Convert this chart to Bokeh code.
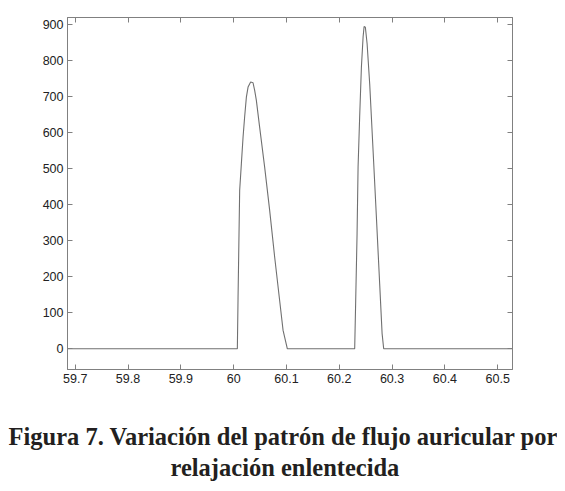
from bokeh.embed import file_html
from bokeh.models import FixedTicker, LinearAxis, PrintfTickFormatter, Range1d, Title
from bokeh.plotting import figure
from bokeh.resources import INLINE

# time (s) and atrial flow
time = [59.68, 60.007, 60.0083, 60.0114, 60.0146, 60.0178, 60.0208, 60.0241,
        60.0273, 60.0322, 60.0367, 60.0398, 60.0430, 60.0492, 60.0587, 60.0682,
        60.0777, 60.0871, 60.0936, 60.1017, 60.2292, 60.2311, 60.2337, 60.2356,
        60.2386, 60.2419, 60.2451, 60.2470, 60.2494, 60.2527, 60.2576, 60.2640,
        60.2703, 60.2765, 60.2811, 60.2841, 60.53]
flow = [0, 0, 139, 439, 513, 587, 643, 698,
        726, 740, 738, 717, 689, 615, 504, 384,
        254, 134, 51, 0, 0, 134, 319, 504,
        643, 781, 865, 894, 892, 846, 735, 550,
        365, 180, 42, 0, 0]

x_ticks = [59.7, 59.8, 59.9, 60.0, 60.1, 60.2, 60.3, 60.4, 60.5]
y_ticks = [0, 100, 200, 300, 400, 500, 600, 700, 800, 900]

caption = ["Figura 7. Variación del patrón de flujo auricular por",
           "relajación enlentecida"]

frame_col = "#808080"
label_font = "Liberation Sans"

p = figure(width=557, height=487, output_backend="svg", toolbar_location=None,
           x_range=Range1d(59.6854, 60.528), y_range=Range1d(-57.5, 919),
           min_border_left=67, min_border_right=45, min_border_top=17,
           min_border_bottom=118, x_axis_location=None, y_axis_location=None)
p.grid.visible = False
p.outline_line_color = frame_col

p.line(time, flow, line_color="#707070", line_width=1.1)


def make_axis(ticks, show_labels):
    ax = LinearAxis(ticker=FixedTicker(ticks=ticks),
                    formatter=PrintfTickFormatter(format="%g"))
    ax.axis_line_color = frame_col
    ax.major_tick_line_color = frame_col
    ax.major_tick_in = 5
    ax.major_tick_out = 0
    ax.minor_tick_line_color = None
    ax.major_label_standoff = 4
    ax.major_label_text_font = label_font
    ax.major_label_text_font_size = "12.5px"
    ax.major_label_text_color = "#222222" if show_labels else None
    return ax


p.add_layout(make_axis(x_ticks, True), "below")
p.add_layout(make_axis(y_ticks, True), "left")
p.add_layout(make_axis(x_ticks, False), "above")
p.add_layout(make_axis(y_ticks, False), "right")

# blank axis used only as a gap between the tick labels and the caption
gap = LinearAxis(ticker=FixedTicker(ticks=[60.0]), axis_line_color=None,
                 major_tick_line_color="white", minor_tick_line_color=None,
                 major_tick_in=0, major_tick_out=34, major_label_standoff=0,
                 major_label_text_font_size="1px", major_label_text_color=None)
p.add_layout(gap, "below")

# caption lines: left offset from the frame
caption_off = [-59, 103]
for line, off in zip(caption, caption_off):
    p.add_layout(Title(text=line, align="left", offset=off, standoff=2,
                       text_font="Liberation Serif", text_font_style="bold",
                       text_font_size="24.5px", text_color="#231f20"), "below")

open("out.html", "w").write(file_html(p, INLINE))
